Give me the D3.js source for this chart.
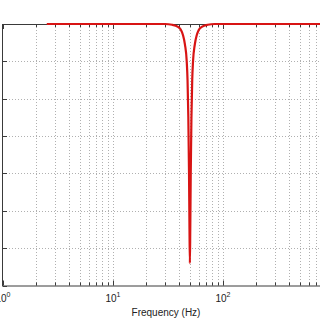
<!DOCTYPE html>
<html>
<head>
<meta charset="utf-8">
<script src="https://cdn.jsdelivr.net/npm/d3@7"></script>
<style>
  html, body { margin: 0; padding: 0; background: #fff; }
  .grid line { stroke: #b0b0b0; stroke-width: 1; stroke-dasharray: 1,2; }
  .frame { fill: none; stroke: #3a3a3a; stroke-width: 1; }
  .tick-mark { stroke: #3a3a3a; stroke-width: 1; }
  .curve { fill: none; stroke: #d81414; stroke-width: 2.2; stroke-linejoin: round; }
  text { font-family: "Liberation Sans", Arial, sans-serif; fill: #222; }
</style>
</head>
<body>
<div class="container"></div>
<script>
const WIDTH = 320;
const HEIGHT = 320;

const PLOT_LEFT = 3;
const PLOT_RIGHT = 333;
const PLOT_TOP = 24;
const PLOT_BOTTOM = 285.5;

// notch response: frequency (Hz) and magnitude (dB)
var frequencies = [2.5, 10, 20, 29.7, 34.4, 39.0, 41.5, 43.3, 45.1, 46.8, 47.6, 48.4, 49.1, 49.6, 50.0,
                   50.4, 50.9, 51.65, 52.5, 53.4, 55.4, 57.7, 60.2, 64.1, 72.7, 84, 200, 1000];
var magnitudes = [0, 0, 0, 0, -0.2, -0.8, -1.6, -3, -5.5, -10, -15, -25, -40, -55, -64,
                  -55, -40, -25, -15, -10, -5.5, -3, -1.6, -0.8, -0.2, 0, 0, 0];

// labelled decades (10^3 sits past the right edge of the picture)
var xTickValues = [1, 10, 100];
var xTickExponents = ["0", "1", "2"];
var yTickValues = [-70, -60, -50, -40, -30, -20, -10, 0];
var xLabel = "Frequency (Hz)";

var xScale = d3.scaleLog()
    .domain([1, 1000])
    .range([PLOT_LEFT, PLOT_RIGHT]);

var yScale = d3.scaleLinear()
    .domain([-70, 0])
    .range([PLOT_BOTTOM, PLOT_TOP]);

var minorTicks = function(){
    var ticks = [];
    for (var d = 1; d < 1000; d *= 10) {
        for (var m = 1; m <= 9; m++) {
            ticks.push(d * m);
        }
    }
    ticks.push(1000);
    return ticks;
};

var isMajor = function(d){
    return Math.abs(Math.log10(d) - Math.round(Math.log10(d))) < 1e-9;
};

var loadChart = function(){
    var svg = d3.select('.container').append('svg')
        .attr('width', WIDTH)
        .attr('height', HEIGHT);

    var allX = minorTicks();

    // dotted grid
    var grid = svg.append('g').classed('grid', true);
    grid.selectAll('line.v')
        .data(allX.filter(function(d){ return d > 1; }))
        .enter().append('line')
        .attr('x1', function(d){ return Math.round(xScale(d)) + 0.5; })
        .attr('x2', function(d){ return Math.round(xScale(d)) + 0.5; })
        .attr('y1', PLOT_TOP)
        .attr('y2', PLOT_BOTTOM);
    grid.selectAll('line.h')
        .data(yTickValues.slice(1, -1))
        .enter().append('line')
        .attr('x1', PLOT_LEFT)
        .attr('x2', PLOT_RIGHT)
        .attr('y1', function(d){ return Math.round(yScale(d)) + 0.5; })
        .attr('y2', function(d){ return Math.round(yScale(d)) + 0.5; });

    // tick marks pointing inwards, bottom and top
    var ticks = svg.append('g');
    ticks.selectAll('line.b')
        .data(allX)
        .enter().append('line')
        .classed('tick-mark', true)
        .attr('x1', function(d){ return Math.round(xScale(d)) + 0.5; })
        .attr('x2', function(d){ return Math.round(xScale(d)) + 0.5; })
        .attr('y1', PLOT_BOTTOM)
        .attr('y2', function(d){ return PLOT_BOTTOM - (isMajor(d) ? 5 : 3); });
    ticks.selectAll('line.t')
        .data(allX)
        .enter().append('line')
        .classed('tick-mark', true)
        .attr('x1', function(d){ return Math.round(xScale(d)) + 0.5; })
        .attr('x2', function(d){ return Math.round(xScale(d)) + 0.5; })
        .attr('y1', PLOT_TOP)
        .attr('y2', function(d){ return PLOT_TOP + (isMajor(d) ? 5 : 3); });
    ticks.selectAll('line.l')
        .data(yTickValues)
        .enter().append('line')
        .classed('tick-mark', true)
        .attr('x1', PLOT_LEFT)
        .attr('x2', PLOT_LEFT + 4)
        .attr('y1', function(d){ return Math.round(yScale(d)) + 0.5; })
        .attr('y2', function(d){ return Math.round(yScale(d)) + 0.5; });

    // frame
    svg.append('rect')
        .classed('frame', true)
        .attr('x', PLOT_LEFT - 0.5)
        .attr('y', PLOT_TOP + 0.5)
        .attr('width', PLOT_RIGHT - PLOT_LEFT)
        .attr('height', PLOT_BOTTOM - PLOT_TOP);

    // curve
    var points = frequencies.map(function(f, i){ return {f: f, db: magnitudes[i]}; });
    var line = d3.line()
        .x(function(d){ return xScale(d.f); })
        .y(function(d){ return yScale(d.db); })
        .curve(d3.curveMonotoneX);
    svg.append('path')
        .datum(points)
        .classed('curve', true)
        .attr('d', line);

    // x tick labels 10^n
    var labels = svg.append('g').selectAll('text')
        .data(xTickValues)
        .enter().append('text')
        .attr('x', function(d){ return xScale(d); })
        .attr('y', 302)
        .attr('text-anchor', 'middle')
        .style('font-size', '10px');
    labels.append('tspan').text('10');
    labels.append('tspan')
        .attr('dy', -5)
        .style('font-size', '7px')
        .text(function(d, i){ return xTickExponents[i]; });

    svg.append('text')
        .attr('x', 166)
        .attr('y', 316)
        .attr('text-anchor', 'middle')
        .style('font-size', '10px')
        .text(xLabel);
};

window.onload = loadChart;
</script>
</body>
</html>
